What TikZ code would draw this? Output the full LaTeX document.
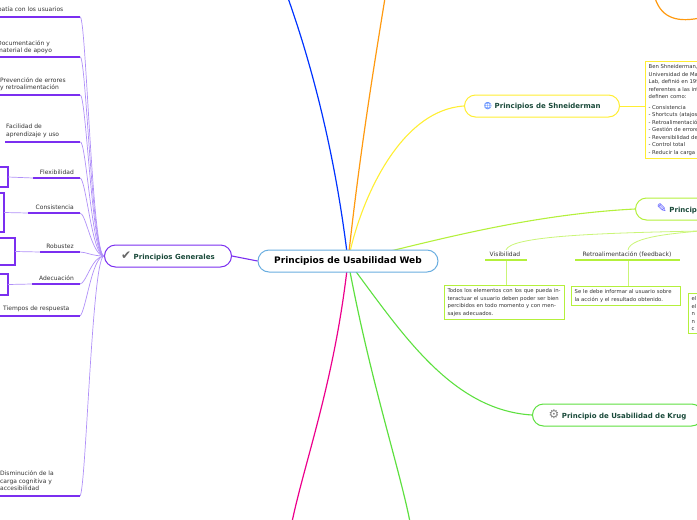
\documentclass[tikz,border=0pt]{standalone}
\usepackage{fontspec}
\setmainfont{DejaVu Sans}
\newfontfamily\symf{DejaVu Sans}
\newfontfamily\emo{Noto Emoji}
\definecolor{cblue}{HTML}{6AAEE0}
\definecolor{cpurple}{HTML}{7B2FF0}
\definecolor{lpurple}{HTML}{B090F8}
\definecolor{cyellow}{HTML}{FFEE33}
\definecolor{clime}{HTML}{B4F03C}
\definecolor{cgreen}{HTML}{5EE040}
\definecolor{corange}{HTML}{FF9A10}
\definecolor{ctext}{HTML}{1A4A3A}
\definecolor{gtext}{HTML}{333333}
\begin{document}
\begin{tikzpicture}[x=1pt,y=-1pt,
  leaf/.style={font=\fontsize{6}{7.5}\selectfont,text=gtext,inner sep=0pt,align=left},
  main/.style={draw,rounded corners=11pt,line width=1pt,fill=white,minimum height=22pt,font=\bfseries\fontsize{7}{8}\selectfont,text=ctext},
  tbox/.style={draw,line width=1.3pt,fill=white,font=\fontsize{5.3}{7.5}\selectfont,text=gtext,align=left,inner sep=3pt,anchor=north west},
  sq/.style={draw=cpurple,line width=1.2pt}]
\useasboundingbox (0,0) rectangle (697,520);
\clip (0,0) rectangle (697,520);
% coordinates
\coordinate (cc) at (348,261);
\coordinate (topb) at (288,-2);
\coordinate (topo) at (385,-2);
\coordinate (botg) at (410,522);
\coordinate (botm) at (292,522);
% main connectors
\draw[blue!80!cyan,line width=1.2pt] (cc) .. controls (335,150) and (310,60) .. (topb);
\draw[corange,line width=1.2pt] (cc) .. controls (360,150) and (375,60) .. (topo);
\draw[corange,line width=1.2pt] (655,-2) .. controls (662,20) and (680,22) .. (700,18);
\draw[cgreen,line width=1.2pt] (cc) .. controls (370,380) and (400,470) .. (botg);
\draw[magenta,line width=1.2pt] (cc) .. controls (335,380) and (305,460) .. (botm);
% Shneiderman
\node[main,draw=cyellow,minimum width=155pt] (sh) at (542,106) {{\emo\textcolor{blue!70!cyan}{🌐}}\ Principios de Shneiderman};
\draw[cyellow,line width=1.1pt] (cc) .. controls (360,200) and (400,110) .. (sh.west);
\node[tbox,draw=cyellow] (shb) at (645,61) {Ben Shneiderman, de la\\Universidad de Maryland HCI\\Lab, definió en 1998 ocho reglas\\referentes a las interfaces que se\\definen como:\\[3pt]- Consistencia\\- Shortcuts (atajos)\\- Retroalimentación\\- Gestión de errores\\- Reversibilidad de acciones\\- Control total\\- Reducir la carga cognitiva};
\draw[cyellow,line width=1pt] (sh.east) -- (shb.west|-sh.east);
% Norman
\node[main,draw=clime,minimum width=140pt,anchor=west] (no) at (635,209) {{\symf\textcolor{blue!70}{\large ✎}}\ Principios de Norman};
\draw[clime,line width=1.1pt] (cc) .. controls (420,245) and (520,215) .. (no.west);
\coordinate (nb) at (700,231);
\coordinate (vis) at (506,250);
\coordinate (ret) at (628,250);
\draw[clime!70!white,line width=.8pt] (nb) .. controls (600,233) and (510,236) .. (vis);
\draw[clime!70!white,line width=.8pt] (nb) .. controls (680,233) and (630,236) .. (ret);
\node[leaf,anchor=south] at (505,257) {Visibilidad};
\node[leaf,anchor=south] at (627,257) {Retroalimentación (feedback)};
\draw[clime,line width=1.3pt] (485,260) -- (527,260);
\draw[clime,line width=1.3pt] (575,260) -- (680,260);
\node[tbox,draw=clime,text width=114pt] (b1) at (444,285) {Todos los elementos con los que pueda interactuar el usuario deben poder ser bien percibidos en todo momento y con mensajes adecuados.};
\node[tbox,draw=clime,text width=103pt] (b2) at (571,286) {Se le debe informar al usuario sobre la acción y el resultado obtenido.};
\node[tbox,draw=clime,text width=60pt] (b3) at (688,293) {el\\el\\n\\n\\c};
\draw[clime!70!white,line width=.8pt] (506,261) -- (506,285);
\draw[clime!70!white,line width=.8pt] (628,261) -- (628,286);
% Krug
\node[main,draw=cgreen,minimum width=170pt,anchor=west] (kr) at (532,415) {{\symf\textcolor{gray}{\large ⚙}}\ Principio de Usabilidad de Krug};
\draw[cgreen,line width=1.1pt] (cc) .. controls (400,330) and (450,410) .. (kr.west);
% central (drawn over connectors)
\node[main,draw=cblue,text=black,minimum width=180pt,font=\bfseries\fontsize{9}{10}\selectfont] (c) at (348,261) {Principios de Usabilidad Web};
% Generales
\node[main,draw=cpurple,minimum width=127pt] (pg) at (168,256) {{\symf\textcolor{gray!80!black}{\large ✔}}\ Principios Generales};
\draw[cpurple,line width=1.1pt] (c.west) -- (pg.east);
\coordinate (pgw) at (pg.west);
\foreach \y/\xs in {17/0, 57/0, 95/0, 142/5, 316/0, 496/0}{
  \draw[lpurple,line width=.7pt] (pgw) .. controls (92,256) and (86,\y-5) .. (80,\y);
  \draw[cpurple,line width=1.2pt] (\xs,\y) -- (80,\y);
}
\node[leaf,anchor=west] at (-12,10) {Empatía con los usuarios};
\node[leaf,anchor=west] at (-3,47) {Documentación y\\material de apoyo};
\node[leaf,anchor=west] at (0,84) {Prevención de errores\\y retroalimentación};
\node[leaf,anchor=west] at (6,131) {Facilidad de\\aprendizaje y uso};
\node[leaf,anchor=west] at (3,309) {Tiempos de respuesta};
\node[leaf,anchor=west] at (0,481) {Disminución de la\\carga cognitiva y\\accesibilidad};
\foreach \y/\xs/\t/\bx/\ba/\bb in {178/33/Flexibilidad/8/167/187, 213/28/Consistencia/4/193/232, 252/40/Robustez/15/238/265, 284/32/Adecuación/8/274/295}{
  \draw[lpurple,line width=.7pt] (pgw) .. controls (92,256) and (86,\y) .. (80,\y);
  \draw[cpurple,line width=1.2pt] (\xs,\y) -- (80,\y);
  \node[leaf,anchor=south east] at (74,\y-3) {\t};
  \draw[sq] (-2,\ba) rectangle (\bx,\bb);
  \draw[lpurple,line width=.7pt] (\bx,\ba/2+\bb/2) -- (\xs,\y);
}
\end{tikzpicture}
\end{document}
